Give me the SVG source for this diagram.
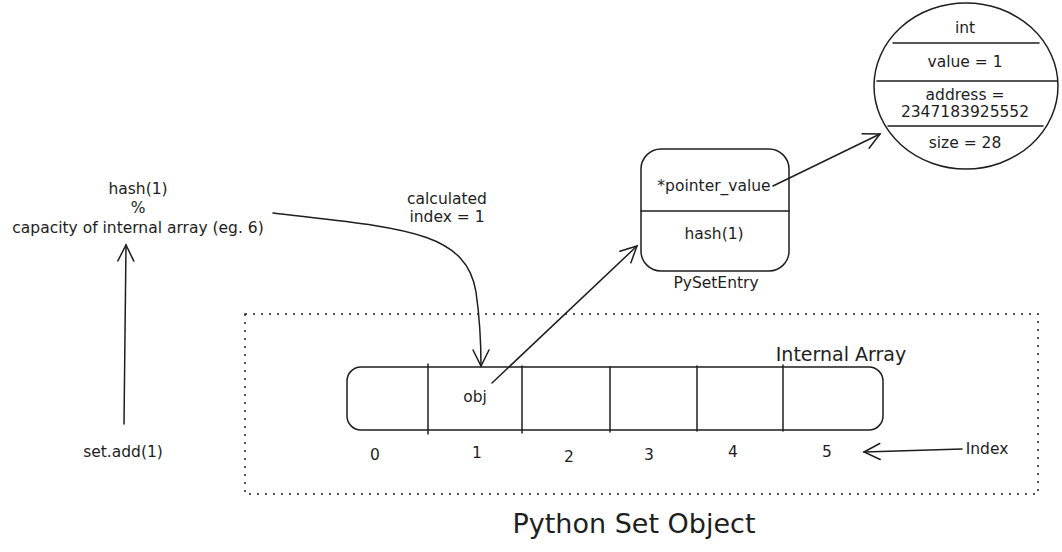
<svg xmlns="http://www.w3.org/2000/svg" width="1062" height="552" viewBox="0 0 1062 552">
<defs>
<style>
text{font-family:"DejaVu Sans","Liberation Sans",sans-serif;fill:#1e1e1e;text-anchor:middle;font-size:15.5px}
.s{fill:none;stroke:#1e1e1e;stroke-width:1.5;stroke-linecap:round;stroke-linejoin:round}
.big{font-size:27px}
.mid{font-size:19px}
</style>
<marker id="ah" viewBox="0 0 20 20" refX="18" refY="10" markerWidth="20" markerHeight="20" markerUnits="userSpaceOnUse" orient="auto">
<path d="M2,2 L18,10 L2,18" fill="none" stroke="#1e1e1e" stroke-width="1.5" stroke-linecap="round"/>
</marker>
</defs>
<rect width="1062" height="552" fill="#ffffff"/>

<g id="set-object">
<rect x="245" y="314" width="793" height="180" fill="none" stroke="#1e1e1e" stroke-width="1.5" stroke-dasharray="2 6"/>
<text x="634" y="533" class="big">Python Set Object</text>
</g>

<g id="internal-array">
<rect class="s" x="347" y="367" width="536" height="63" rx="14"/>
<line class="s" x1="428" y1="364" x2="428" y2="434"/>
<line class="s" x1="522" y1="366" x2="522" y2="433"/>
<line class="s" x1="610" y1="367" x2="610" y2="432"/>
<line class="s" x1="697" y1="366" x2="697" y2="431"/>
<line class="s" x1="783" y1="365" x2="783" y2="431"/>
<text x="475" y="402">obj</text>
<text x="841" y="361" class="mid">Internal Array</text>
<text x="375" y="460">0</text>
<text x="477" y="458">1</text>
<text x="569" y="462">2</text>
<text x="649" y="460">3</text>
<text x="733" y="457">4</text>
<text x="827" y="457">5</text>
</g>

<g id="index-label">
<text x="987" y="454">Index</text>
</g>

<g id="pysetentry">
<rect class="s" x="641" y="149" width="148" height="122" rx="20"/>
<line class="s" x1="641" y1="211" x2="789" y2="211"/>
<text x="714" y="191">*pointer_value</text>
<text x="714" y="239">hash(1)</text>
<text x="716" y="288">PySetEntry</text>
</g>

<g id="int-object">
<ellipse class="s" cx="966" cy="86" rx="92" ry="83"/>
<line class="s" x1="893" y1="43" x2="1039" y2="43"/>
<line class="s" x1="877" y1="81" x2="1057" y2="81"/>
<line class="s" x1="888" y1="126" x2="1043" y2="126"/>
<text x="965" y="33">int</text>
<text x="965" y="67">value = 1</text>
<text x="965" y="100">address =</text>
<text x="965" y="117">2347183925552</text>
<text x="965" y="148">size = 28</text>
</g>

<g id="hash-label">
<text x="138" y="194">hash(1)</text>
<text x="138" y="213">%</text>
<text x="138" y="233">capacity of internal array (eg. 6)</text>
</g>

<g id="set-add">
<text x="123" y="457">set.add(1)</text>
</g>

<g id="calc-label">
<text x="447" y="204">calculated</text>
<text x="447" y="222">index = 1</text>
</g>

<g id="connectors">
<path class="s" d="M124,424 L126,245" marker-end="url(#ah)"/>
<path class="s" d="M273,213 C400,228 466,230 476,292 C480,320 481,345 481,366" marker-end="url(#ah)"/>
<path class="s" d="M492,383 L637,246" marker-end="url(#ah)"/>
<path class="s" d="M773,186 L880,134" marker-end="url(#ah)"/>
<path class="s" d="M962,449 L864,452" marker-end="url(#ah)"/>
</g>
</svg>
